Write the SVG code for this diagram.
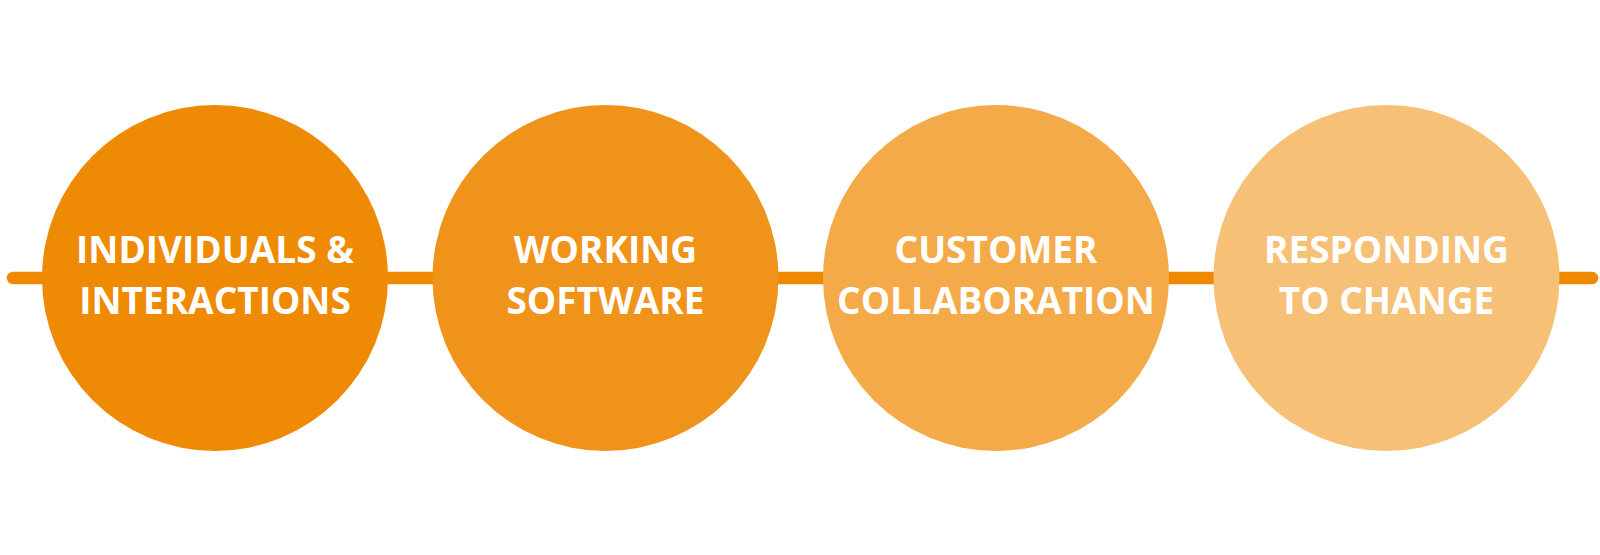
<svg xmlns="http://www.w3.org/2000/svg" width="1600" height="555" viewBox="0 0 1600 555">
<style>
.lbl{font-family:"Open Sans","Liberation Sans",sans-serif;font-weight:700;font-size:37px;fill:#fff;text-anchor:middle}
</style>
<rect width="1600" height="555" fill="#fff"/>
<g id="connectors">
<line x1="13" y1="278" x2="1592" y2="278" stroke="#EF8A00" stroke-width="12.5" stroke-linecap="round"/>
</g>
<g id="n1"><circle cx="215" cy="278" r="173" fill="#EF8A05"/>
<text class="lbl" x="215" y="263">INDIVIDUALS &amp;</text><text class="lbl" x="215" y="314">INTERACTIONS</text></g>
<g id="n2"><circle cx="605.5" cy="278" r="173" fill="#F0931A"/>
<text class="lbl" x="605.5" y="263">WORKING</text><text class="lbl" x="605.5" y="314">SOFTWARE</text></g>
<g id="n3"><circle cx="996" cy="278" r="173" fill="#F4AA48"/>
<text class="lbl" x="996" y="263">CUSTOMER</text><text class="lbl" x="996" y="314">COLLABORATION</text></g>
<g id="n4"><circle cx="1386.5" cy="278" r="173" fill="#F7C077"/>
<text class="lbl" x="1386.5" y="263">RESPONDING</text><text class="lbl" x="1386.5" y="314">TO CHANGE</text></g>
</svg>
